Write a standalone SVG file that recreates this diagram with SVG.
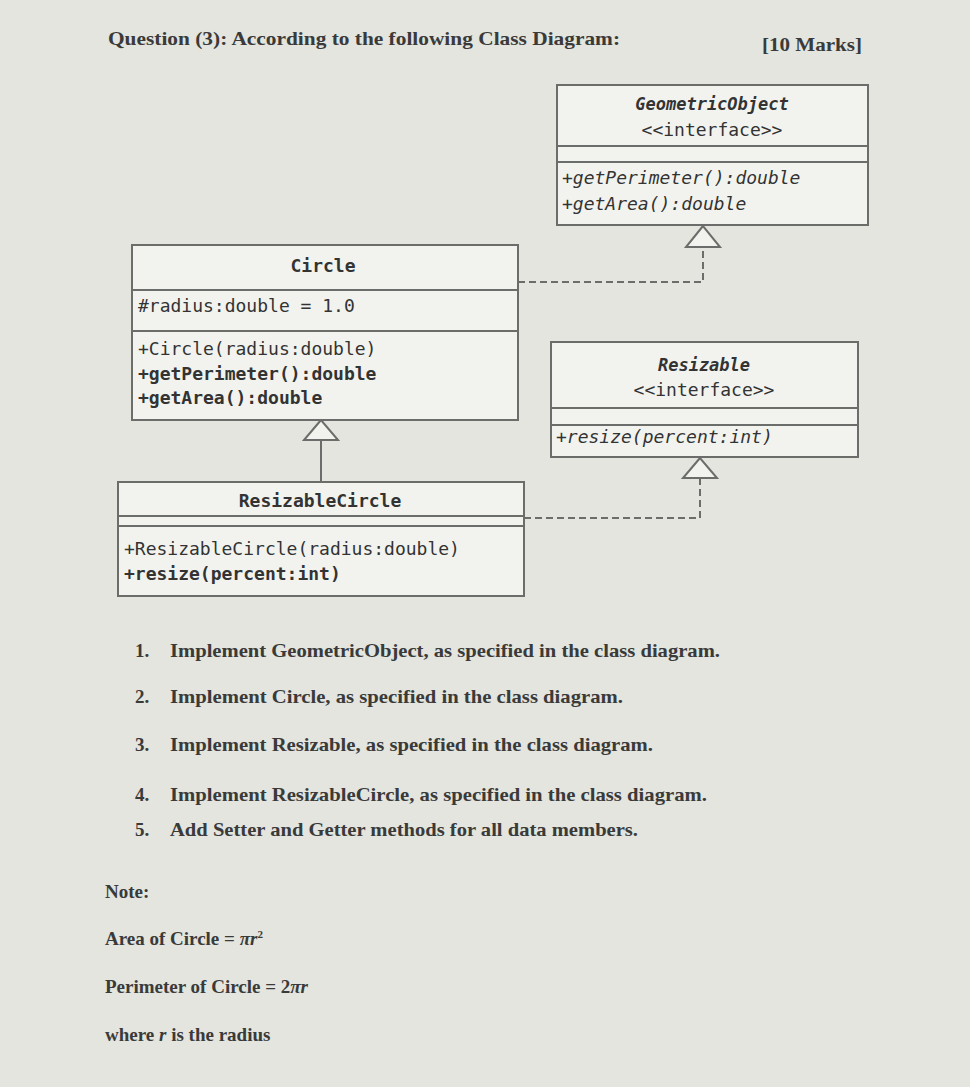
<svg xmlns="http://www.w3.org/2000/svg" width="970" height="1087" viewBox="0 0 970 1087">
<style>
.box{fill:#f2f3ef;stroke:#6a6d6a;stroke-width:2}
.ln{stroke:#6a6d6a;stroke-width:2}
.m{font-family:"DejaVu Sans Mono",monospace;font-size:18px;fill:#333}
.mb{font-family:"DejaVu Sans Mono",monospace;font-size:18px;font-weight:bold;fill:#333}
.mi{font-family:"DejaVu Sans Mono",monospace;font-size:18px;font-style:italic;fill:#333}
.mib{font-family:"DejaVu Sans Mono",monospace;font-size:17px;font-style:italic;font-weight:bold;fill:#333}
.s{font-family:"Liberation Serif",serif;font-size:19px;font-weight:bold;fill:#3a3a3a}
.dash{fill:none;stroke:#6a6d6a;stroke-width:2;stroke-dasharray:7,4}
.tri{fill:#f2f3ef;stroke:#6a6d6a;stroke-width:2}
</style>
<rect width="970" height="1087" fill="#e3e5de"/>
<text x="108" y="45" class="s" font-size="21" textLength="512" lengthAdjust="spacingAndGlyphs">Question (3): According to the following Class Diagram:</text>
<text x="762" y="51" class="s" font-size="19" textLength="100" lengthAdjust="spacingAndGlyphs">[10 Marks]</text>
<g id="connectors">
<polyline class="dash" points="518,282 703,282 703,247"/>
<polygon class="tri" points="703,226 686,247 720,247"/>
<line class="ln" x1="321" y1="440" x2="321" y2="482"/>
<polygon class="tri" points="321,420 304,440 338,440"/>
<polyline class="dash" points="524,518 700,518 700,478"/>
<polygon class="tri" points="700,458 683,478 717,478"/>
</g>
<g id="GeometricObject">
<rect class="box" x="557" y="85" width="311" height="140"/>
<line class="ln" x1="557" y1="146" x2="868" y2="146"/>
<line class="ln" x1="557" y1="162" x2="868" y2="162"/>
<text x="712" y="110" class="mib" text-anchor="middle">GeometricObject</text>
<text x="712" y="136" class="m" text-anchor="middle">&lt;&lt;interface&gt;&gt;</text>
<text x="562" y="184" class="mi">+getPerimeter():double</text>
<text x="562" y="210" class="mi">+getArea():double</text>
</g>
<g id="Circle">
<rect class="box" x="132" y="245" width="386" height="175"/>
<line class="ln" x1="132" y1="290" x2="518" y2="290"/>
<line class="ln" x1="132" y1="331" x2="518" y2="331"/>
<text x="323" y="272" class="mb" text-anchor="middle">Circle</text>
<text x="138" y="312" class="m">#radius:double = 1.0</text>
<text x="138" y="355" class="m">+Circle(radius:double)</text>
<text x="138" y="380" class="mb">+getPerimeter():double</text>
<text x="138" y="404" class="mb">+getArea():double</text>
</g>
<g id="Resizable">
<rect class="box" x="551" y="342" width="307" height="115"/>
<line class="ln" x1="551" y1="408" x2="858" y2="408"/>
<line class="ln" x1="551" y1="425" x2="858" y2="425"/>
<text x="704" y="371" class="mib" text-anchor="middle">Resizable</text>
<text x="704" y="396" class="m" text-anchor="middle">&lt;&lt;interface&gt;&gt;</text>
<text x="556" y="443" class="mi">+resize(percent:int)</text>
</g>
<g id="ResizableCircle">
<rect class="box" x="118" y="482" width="406" height="114"/>
<line class="ln" x1="118" y1="516" x2="524" y2="516"/>
<line class="ln" x1="118" y1="526" x2="524" y2="526"/>
<text x="320" y="507" class="mb" text-anchor="middle">ResizableCircle</text>
<text x="124" y="555" class="m">+ResizableCircle(radius:double)</text>
<text x="124" y="580" class="mb">+resize(percent:int)</text>
</g>
<text x="135" y="657" class="s">1.</text><text x="170" y="657" class="s" textLength="550" lengthAdjust="spacingAndGlyphs">Implement GeometricObject, as specified in the class diagram.</text>
<text x="135" y="703" class="s">2.</text><text x="170" y="703" class="s" textLength="453" lengthAdjust="spacingAndGlyphs">Implement Circle, as specified in the class diagram.</text>
<text x="135" y="751" class="s">3.</text><text x="170" y="751" class="s" textLength="483" lengthAdjust="spacingAndGlyphs">Implement Resizable, as specified in the class diagram.</text>
<text x="135" y="801" class="s">4.</text><text x="170" y="801" class="s" textLength="537" lengthAdjust="spacingAndGlyphs">Implement ResizableCircle, as specified in the class diagram.</text>
<text x="135" y="836" class="s">5.</text><text x="170" y="836" class="s" textLength="468" lengthAdjust="spacingAndGlyphs">Add Setter and Getter methods for all data members.</text>
<text x="105" y="898" class="s" font-size="17">Note:</text>
<text x="105" y="945" class="s" font-size="17">Area of Circle = <tspan font-style="italic">πr</tspan><tspan font-size="11" dy="-7">2</tspan></text>
<text x="105" y="993" class="s" font-size="17">Perimeter of Circle = 2<tspan font-style="italic">πr</tspan></text>
<text x="105" y="1041" class="s" font-size="17">where <tspan font-style="italic">r</tspan> is the radius</text>
</svg>
